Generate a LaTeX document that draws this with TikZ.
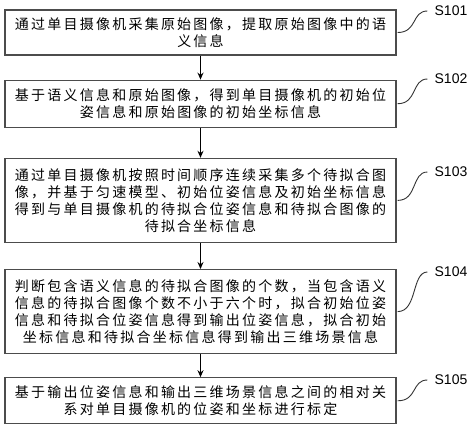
\documentclass[tikz,border=0pt]{standalone}
\usepackage{fontspec}
\setmainfont{Liberation Sans}
\newfontfamily\cjk{Noto Sans CJK SC}[LetterSpace=16]
\usetikzlibrary{positioning}
\usetikzlibrary{arrows.meta}
\tikzset {
  flow path/.style = {
    draw = black,
    line width = 1.2pt
  },
  % arrow between two steps
  arr/.style = {
    flow path,
    -{Stealth[length = 7pt, width = 6pt]}
  },
  % curly line from a box to its step number
  lead/.style = {
    draw = black!80,
    line width = 0.9pt
  }
}
\tikzset {
  proc/.style = {
    draw = black!70,
    line width = 1.2pt,
    inner sep = 0pt,
    minimum width = 391pt,
    align = center,
    font = \cjk\fontsize{14}{17}\selectfont
  },
  step label/.style = {
    inner sep = 0pt,
    font = \fontsize{14}{16}\selectfont
  },
  node distance = 24pt
}
\begin{document}
\begin{tikzpicture}[x = 1pt, y = -1pt]
  \useasboundingbox (0,0) rectangle (474,424);
  \node[proc, minimum height = 45pt] (s101) at (200.5,32.5)
    {通过单目摄像机采集原始图像，提取原始图像中的语\\义信息};
  \node[proc, minimum height = 47pt] (s102) [below=24pt of s101]
    {基于语义信息和原始图像，得到单目摄像机的初始位\\姿信息和原始图像的初始坐标信息};
  \node[proc, minimum height = 84pt] (s103) [below=30pt of s102]
    {通过单目摄像机按照时间顺序连续采集多个待拟合图\\像，并基于匀速模型、初始位姿信息及初始坐标信息\\得到与单目摄像机的待拟合位姿信息和待拟合图像的\\待拟合坐标信息};
  \node[proc, minimum height = 84pt] (s104) [below=26pt of s103]
    {判断包含语义信息的待拟合图像的个数，当包含语义\\信息的待拟合图像个数不小于六个时，拟合初始位姿\\信息和待拟合位姿信息得到输出位姿信息，拟合初始\\坐标信息和待拟合坐标信息得到输出三维场景信息};
  \node[proc, minimum height = 46pt] (s105) [below=23pt of s104]
    {基于输出位姿信息和输出三维场景信息之间的相对关\\系对单目摄像机的位姿和坐标进行标定};

  \node[step label] (l101) at (451,11) {S101};
  \node[step label] (l102) at (451,79) {S102};
  \node[step label] (l103) at (451,172) {S103};
  \node[step label] (l104) at (451,272) {S104};
  \node[step label] (l105) at (451,380) {S105};

  \draw[arr] (s101) -- (s102);
  \draw[arr] (s102) -- (s103);
  \draw[arr] (s103) -- (s104);
  \draw[arr] (s104) -- (s105);

  \foreach \i in {101,...,105} {
    \coordinate [left=7pt of l\i] (c\i);
    \draw[lead] ([xshift=1pt]s\i.east) .. controls +(20,0) and +(-16,0) .. (c\i);
  }
\end{tikzpicture}
\end{document}
